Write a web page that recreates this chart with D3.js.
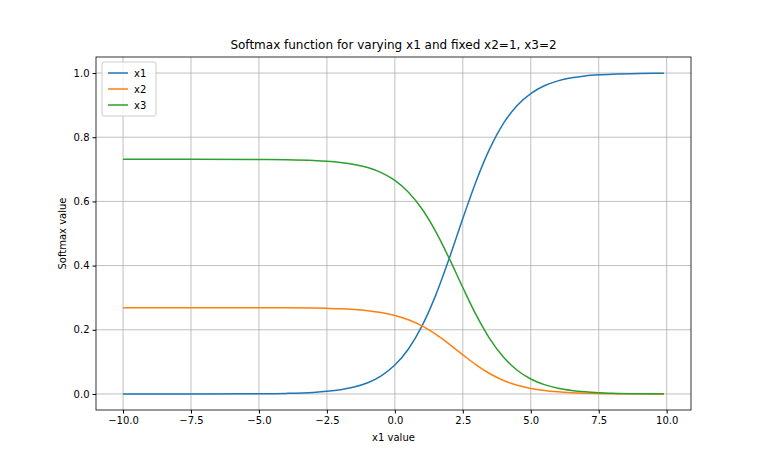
<!DOCTYPE html>
<html><head><meta charset="utf-8">
<script src="https://cdn.jsdelivr.net/npm/d3@7"></script>
<style>body{margin:0;background:#fff}text{font-family:"DejaVu Sans",sans-serif}</style>
</head><body><svg id="c" width="768" height="461"></svg>
<script>
const xs=[-10,-7.5,-5,-4,-3,-2.5,-2,-1.5,-1,-0.5,0,0.5,1,1.5,2,2.5,3,3.5,4,4.5,5,5.5,6,6.5,7,7.5,8,9,9.9];
const x1=[0,0.0001,0.0007,0.0018,0.0049,0.0081,0.0132,0.0216,0.0351,0.0566,0.0900,0.1402,0.2119,0.3072,0.4223,0.5465,0.6653,0.7662,0.8438,0.8991,0.9362,0.9603,0.9756,0.9850,0.9909,0.9944,0.9966,0.9988,0.9995];
const x2=[0.2689,0.2689,0.2687,0.2684,0.2676,0.2667,0.2654,0.2631,0.2595,0.2537,0.2447,0.2312,0.2119,0.1863,0.1553,0.1219,0.0900,0.0629,0.0420,0.0271,0.0172,0.0107,0.0066,0.0040,0.0024,0.0015,0.0009,0.0003,0.0001];
const x3=[0.7311,0.7310,0.7306,0.7298,0.7275,0.7252,0.7214,0.7153,0.7054,0.6897,0.6653,0.6286,0.5762,0.5065,0.4224,0.3316,0.2447,0.1709,0.1142,0.0738,0.0466,0.0290,0.0178,0.0110,0.0067,0.0041,0.0025,0.0009,0.0004];
const series=[{name:"x1",v:x1,c:"#1f77b4"},{name:"x2",v:x2,c:"#ff7f0e"},{name:"x3",v:x3,c:"#2ca02c"}];
const xTicks=[-10,-7.5,-5,-2.5,0,2.5,5,7.5,10];
const yTicks=[0,0.2,0.4,0.6,0.8,1.0];
const L=96,R=691,T=57,B=410;
const svg=d3.select("#c");
const x=d3.scaleLinear().domain([-10.995,10.895]).range([L,R]);
const y=d3.scaleLinear().domain([-0.05,1.05]).range([B,T]);
const g=svg.append("g");
g.selectAll(".gx").data(xTicks).join("line").attr("x1",d=>x(d)).attr("x2",d=>x(d)).attr("y1",T).attr("y2",B).attr("stroke","#b0b0b0").attr("stroke-width",0.8);
g.selectAll(".gy").data(yTicks).join("line").attr("y1",d=>y(d)).attr("y2",d=>y(d)).attr("x1",L).attr("x2",R).attr("stroke","#b0b0b0").attr("stroke-width",0.8);
const ax=svg.append("g").attr("transform",`translate(0,${B})`).call(d3.axisBottom(x).tickValues(xTicks).tickFormat(d3.format(".1f")).tickSizeOuter(0).tickSize(3.5));
const ay=svg.append("g").attr("transform",`translate(${L},0)`).call(d3.axisLeft(y).tickValues(yTicks).tickFormat(d3.format(".1f")).tickSizeOuter(0).tickSize(3.5));
[ax,ay].forEach(a=>{a.select(".domain").remove();a.selectAll("text").attr("font-size",10).attr("fill","#000").style("font-family","DejaVu Sans");a.selectAll("line").attr("stroke","#000");});
ax.selectAll("text").text(d=>d<0?"\u2212"+Math.abs(d).toFixed(1):d.toFixed(1));
const line=d3.line().curve(d3.curveMonotoneX);
series.forEach(s=>{svg.append("path").attr("d",line(xs.map((d,i)=>[x(d),y(s.v[i])]))).attr("fill","none").attr("stroke",s.c).attr("stroke-width",1.5);});
svg.append("rect").attr("x",L).attr("y",T).attr("width",R-L).attr("height",B-T).attr("fill","none").attr("stroke","#000").attr("stroke-width",0.8);
svg.append("text").attr("x",(L+R)/2).attr("y",49).attr("text-anchor","middle").attr("font-size",12).text("Softmax function for varying x1 and fixed x2=1, x3=2");
svg.append("text").attr("x",(L+R)/2).attr("y",441).attr("text-anchor","middle").attr("font-size",10).text("x1 value");
svg.append("text").attr("transform",`translate(66,${(T+B)/2}) rotate(-90)`).attr("text-anchor","middle").attr("font-size",10).text("Softmax value");
const lg=svg.append("g").attr("transform",`translate(${L+6},${T+5})`);
lg.append("rect").attr("width",54).attr("height",54).attr("rx",2).attr("fill","#fff").attr("fill-opacity",0.8).attr("stroke","#ccc");
series.forEach((s,i)=>{const yy=11+i*16;lg.append("line").attr("x1",6).attr("x2",26).attr("y1",yy).attr("y2",yy).attr("stroke",s.c).attr("stroke-width",1.5);lg.append("text").attr("x",32).attr("y",yy+3.5).attr("font-size",10).text(s.name);});
</script></body></html>
